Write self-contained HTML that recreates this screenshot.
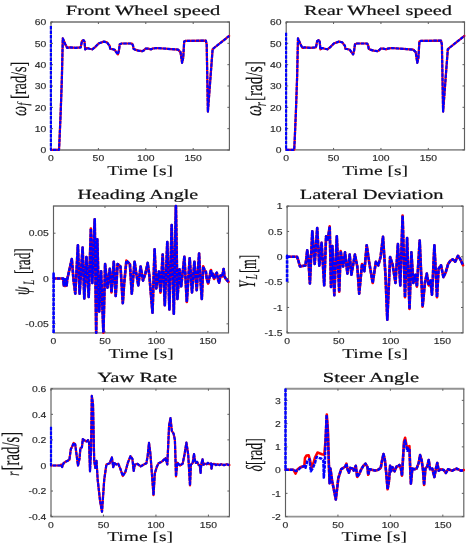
<!DOCTYPE html><html><head><meta charset="utf-8"><title>Vehicle state estimation plots</title><style>html,body{margin:0;padding:0;background:#fff;overflow:hidden}svg{display:block}</style></head><body>
<svg width="469" height="550" viewBox="0 0 469 550" text-rendering="geometricPrecision">
<rect x="0" y="0" width="469" height="550" fill="#ffffff"/>
<g id="A1">
<g class="axis">
<line x1="50.42" y1="22.00" x2="229.97" y2="22.00" stroke="#939393" stroke-width="1.8"/>
<line x1="50.42" y1="150.00" x2="229.97" y2="150.00" stroke="#939393" stroke-width="1.8"/>
<line x1="51.00" y1="22.00" x2="51.00" y2="150.00" stroke="#5e5e5e" stroke-width="1.15"/>
<line x1="229.40" y1="22.00" x2="229.40" y2="150.00" stroke="#5e5e5e" stroke-width="1.15"/>
<line x1="51.00" y1="150.00" x2="51.00" y2="148.00" stroke="#5e5e5e" stroke-width="1"/>
<line x1="51.00" y1="22.00" x2="51.00" y2="24.00" stroke="#5e5e5e" stroke-width="1"/>
<line x1="98.40" y1="150.00" x2="98.40" y2="148.00" stroke="#5e5e5e" stroke-width="1"/>
<line x1="98.40" y1="22.00" x2="98.40" y2="24.00" stroke="#5e5e5e" stroke-width="1"/>
<line x1="145.79" y1="150.00" x2="145.79" y2="148.00" stroke="#5e5e5e" stroke-width="1"/>
<line x1="145.79" y1="22.00" x2="145.79" y2="24.00" stroke="#5e5e5e" stroke-width="1"/>
<line x1="193.19" y1="150.00" x2="193.19" y2="148.00" stroke="#5e5e5e" stroke-width="1"/>
<line x1="193.19" y1="22.00" x2="193.19" y2="24.00" stroke="#5e5e5e" stroke-width="1"/>
<line x1="51.00" y1="150.00" x2="53.00" y2="150.00" stroke="#5e5e5e" stroke-width="1"/>
<line x1="229.40" y1="150.00" x2="227.40" y2="150.00" stroke="#5e5e5e" stroke-width="1"/>
<line x1="51.00" y1="128.67" x2="53.00" y2="128.67" stroke="#5e5e5e" stroke-width="1"/>
<line x1="229.40" y1="128.67" x2="227.40" y2="128.67" stroke="#5e5e5e" stroke-width="1"/>
<line x1="51.00" y1="107.33" x2="53.00" y2="107.33" stroke="#5e5e5e" stroke-width="1"/>
<line x1="229.40" y1="107.33" x2="227.40" y2="107.33" stroke="#5e5e5e" stroke-width="1"/>
<line x1="51.00" y1="86.00" x2="53.00" y2="86.00" stroke="#5e5e5e" stroke-width="1"/>
<line x1="229.40" y1="86.00" x2="227.40" y2="86.00" stroke="#5e5e5e" stroke-width="1"/>
<line x1="51.00" y1="64.67" x2="53.00" y2="64.67" stroke="#5e5e5e" stroke-width="1"/>
<line x1="229.40" y1="64.67" x2="227.40" y2="64.67" stroke="#5e5e5e" stroke-width="1"/>
<line x1="51.00" y1="43.33" x2="53.00" y2="43.33" stroke="#5e5e5e" stroke-width="1"/>
<line x1="229.40" y1="43.33" x2="227.40" y2="43.33" stroke="#5e5e5e" stroke-width="1"/>
<line x1="51.00" y1="22.00" x2="53.00" y2="22.00" stroke="#5e5e5e" stroke-width="1"/>
<line x1="229.40" y1="22.00" x2="227.40" y2="22.00" stroke="#5e5e5e" stroke-width="1"/>
</g>
<g font-family="'Liberation Sans', Arial, Helvetica, sans-serif" font-size="8.6" fill="#2a2a2a" letter-spacing="0.0" stroke="#2a2a2a" stroke-width="0.15">
<text id="A1x0" text-anchor="middle" transform="translate(51.00,161.20) scale(1.21,1)">0</text>
<text id="A1x50" text-anchor="middle" transform="translate(98.40,161.20) scale(1.21,1)">50</text>
<text id="A1x100" text-anchor="middle" transform="translate(145.79,161.20) scale(1.21,1)">100</text>
<text id="A1x150" text-anchor="middle" transform="translate(193.19,161.20) scale(1.21,1)">150</text>
<text id="A1y0" text-anchor="end" transform="translate(46.40,153.30) scale(1.21,1)">0</text>
<text id="A1y10" text-anchor="end" transform="translate(46.40,131.97) scale(1.21,1)">10</text>
<text id="A1y20" text-anchor="end" transform="translate(46.40,110.63) scale(1.21,1)">20</text>
<text id="A1y30" text-anchor="end" transform="translate(46.40,89.30) scale(1.21,1)">30</text>
<text id="A1y40" text-anchor="end" transform="translate(46.40,67.97) scale(1.21,1)">40</text>
<text id="A1y50" text-anchor="end" transform="translate(46.40,46.63) scale(1.21,1)">50</text>
<text id="A1y60" text-anchor="end" transform="translate(46.40,25.30) scale(1.21,1)">60</text>
</g>
<g class="curve"><polyline points="51.2,149.8 59.0,149.8 59.5,140.0 60.7,111.8 61.9,77.3 62.4,55.0 62.8,38.4 65.3,44.2 67.3,48.0 69.2,47.4 75.6,47.8 80.7,47.4 82.0,41.0 83.5,40.1 84.5,41.6 85.2,49.3 87.1,48.0 89.6,48.7 92.2,49.3 94.8,47.4 98.6,43.5 103.8,41.6 107.0,42.3 108.3,44.2 109.6,45.5 110.2,48.7 112.8,49.3 114.7,49.9 116.0,51.9 117.9,54.4 118.9,50.6 119.8,44.2 121.7,43.5 132.0,43.5 133.0,45.5 133.5,48.7 135.8,49.9 138.4,50.6 142.2,51.2 143.5,50.6 145.4,48.7 148.0,48.7 151.2,49.3 152.4,48.7 156.3,48.0 163.2,48.5 171.4,49.1 178.0,49.6 180.5,52.1 182.1,62.8 183.2,57.8 184.2,41.4 185.4,40.9 205.8,40.6 206.7,44.5 207.9,111.6 212.6,49.4 214.0,48.0 229.2,35.9" fill="none" stroke="#ff0000" stroke-width="2.2" stroke-linejoin="round" stroke-linecap="round"/><polyline points="50.9,25.9 50.9,149.8 51.2,149.8 59.0,149.8 59.5,140.0 60.7,111.8 61.9,77.3 62.4,55.0 62.8,38.4 65.3,44.2 67.3,48.0 69.2,47.4 75.6,47.8 80.7,47.4 82.0,41.0 83.5,40.1 84.5,41.6 85.2,49.3 87.1,48.0 89.6,48.7 92.2,49.3 94.8,47.4 98.6,43.5 103.8,41.6 107.0,42.3 108.3,44.2 109.6,45.5 110.2,48.7 112.8,49.3 114.7,49.9 116.0,51.9 117.9,54.4 118.9,50.6 119.8,44.2 121.7,43.5 132.0,43.5 133.0,45.5 133.5,48.7 135.8,49.9 138.4,50.6 142.2,51.2 143.5,50.6 145.4,48.7 148.0,48.7 151.2,49.3 152.4,48.7 156.3,48.0 163.2,48.5 171.4,49.1 178.0,49.6 180.5,52.1 182.1,62.8 183.2,57.8 184.2,41.4 185.4,40.9 205.8,40.6 206.7,44.5 207.9,111.6 212.6,49.4 214.0,48.0 229.2,35.9" fill="none" stroke="#0000ff" stroke-width="2.2" stroke-dasharray="3.6 0.9" stroke-linejoin="round"/></g>
</g>
<g id="A2">
<g class="axis">
<line x1="285.62" y1="22.00" x2="465.07" y2="22.00" stroke="#939393" stroke-width="1.8"/>
<line x1="285.62" y1="149.95" x2="465.07" y2="149.95" stroke="#939393" stroke-width="1.8"/>
<line x1="286.20" y1="22.00" x2="286.20" y2="149.95" stroke="#5e5e5e" stroke-width="1.15"/>
<line x1="464.50" y1="22.00" x2="464.50" y2="149.95" stroke="#5e5e5e" stroke-width="1.15"/>
<line x1="286.20" y1="149.95" x2="286.20" y2="147.95" stroke="#5e5e5e" stroke-width="1"/>
<line x1="286.20" y1="22.00" x2="286.20" y2="24.00" stroke="#5e5e5e" stroke-width="1"/>
<line x1="333.57" y1="149.95" x2="333.57" y2="147.95" stroke="#5e5e5e" stroke-width="1"/>
<line x1="333.57" y1="22.00" x2="333.57" y2="24.00" stroke="#5e5e5e" stroke-width="1"/>
<line x1="380.94" y1="149.95" x2="380.94" y2="147.95" stroke="#5e5e5e" stroke-width="1"/>
<line x1="380.94" y1="22.00" x2="380.94" y2="24.00" stroke="#5e5e5e" stroke-width="1"/>
<line x1="428.31" y1="149.95" x2="428.31" y2="147.95" stroke="#5e5e5e" stroke-width="1"/>
<line x1="428.31" y1="22.00" x2="428.31" y2="24.00" stroke="#5e5e5e" stroke-width="1"/>
<line x1="286.20" y1="149.95" x2="288.20" y2="149.95" stroke="#5e5e5e" stroke-width="1"/>
<line x1="464.50" y1="149.95" x2="462.50" y2="149.95" stroke="#5e5e5e" stroke-width="1"/>
<line x1="286.20" y1="128.62" x2="288.20" y2="128.62" stroke="#5e5e5e" stroke-width="1"/>
<line x1="464.50" y1="128.62" x2="462.50" y2="128.62" stroke="#5e5e5e" stroke-width="1"/>
<line x1="286.20" y1="107.30" x2="288.20" y2="107.30" stroke="#5e5e5e" stroke-width="1"/>
<line x1="464.50" y1="107.30" x2="462.50" y2="107.30" stroke="#5e5e5e" stroke-width="1"/>
<line x1="286.20" y1="85.97" x2="288.20" y2="85.97" stroke="#5e5e5e" stroke-width="1"/>
<line x1="464.50" y1="85.97" x2="462.50" y2="85.97" stroke="#5e5e5e" stroke-width="1"/>
<line x1="286.20" y1="64.65" x2="288.20" y2="64.65" stroke="#5e5e5e" stroke-width="1"/>
<line x1="464.50" y1="64.65" x2="462.50" y2="64.65" stroke="#5e5e5e" stroke-width="1"/>
<line x1="286.20" y1="43.32" x2="288.20" y2="43.32" stroke="#5e5e5e" stroke-width="1"/>
<line x1="464.50" y1="43.32" x2="462.50" y2="43.32" stroke="#5e5e5e" stroke-width="1"/>
<line x1="286.20" y1="22.00" x2="288.20" y2="22.00" stroke="#5e5e5e" stroke-width="1"/>
<line x1="464.50" y1="22.00" x2="462.50" y2="22.00" stroke="#5e5e5e" stroke-width="1"/>
</g>
<g font-family="'Liberation Sans', Arial, Helvetica, sans-serif" font-size="8.6" fill="#2a2a2a" letter-spacing="0.0" stroke="#2a2a2a" stroke-width="0.15">
<text id="A2x0" text-anchor="middle" transform="translate(286.20,161.15) scale(1.21,1)">0</text>
<text id="A2x50" text-anchor="middle" transform="translate(333.57,161.15) scale(1.21,1)">50</text>
<text id="A2x100" text-anchor="middle" transform="translate(380.94,161.15) scale(1.21,1)">100</text>
<text id="A2x150" text-anchor="middle" transform="translate(428.31,161.15) scale(1.21,1)">150</text>
<text id="A2y0" text-anchor="end" transform="translate(281.60,153.25) scale(1.21,1)">0</text>
<text id="A2y10" text-anchor="end" transform="translate(281.60,131.93) scale(1.21,1)">10</text>
<text id="A2y20" text-anchor="end" transform="translate(281.60,110.60) scale(1.21,1)">20</text>
<text id="A2y30" text-anchor="end" transform="translate(281.60,89.27) scale(1.21,1)">30</text>
<text id="A2y40" text-anchor="end" transform="translate(281.60,67.95) scale(1.21,1)">40</text>
<text id="A2y50" text-anchor="end" transform="translate(281.60,46.62) scale(1.21,1)">50</text>
<text id="A2y60" text-anchor="end" transform="translate(281.60,25.30) scale(1.21,1)">60</text>
</g>
<g class="curve"><polyline points="286.4,149.8 294.2,149.8 294.7,140.0 295.9,111.8 297.1,77.3 297.6,55.0 298.0,38.4 300.5,44.2 302.5,48.0 304.4,47.4 310.8,47.8 315.9,47.4 317.2,41.0 318.7,40.1 319.7,41.6 320.4,49.3 322.3,48.0 324.8,48.7 327.4,49.3 330.0,47.4 333.8,43.5 339.0,41.6 342.2,42.3 343.5,44.2 344.8,45.5 345.4,48.7 348.0,49.3 349.9,49.9 351.2,51.9 353.1,54.4 354.1,50.6 355.0,44.2 356.9,43.5 367.2,43.5 368.2,45.5 368.7,48.7 371.0,49.9 373.6,50.6 377.4,51.2 378.7,50.6 380.6,48.7 383.2,48.7 386.4,49.3 387.6,48.7 391.5,48.0 398.4,48.5 406.6,49.1 413.2,49.6 415.7,52.1 417.3,62.8 418.4,57.8 419.4,41.4 420.6,40.9 441.0,40.6 441.9,44.5 443.1,111.6 447.8,49.4 449.2,48.0 464.4,35.9" fill="none" stroke="#ff0000" stroke-width="2.2" stroke-linejoin="round" stroke-linecap="round"/><polyline points="286.1,32.7 286.1,149.8 286.4,149.8 294.2,149.8 294.7,140.0 295.9,111.8 297.1,77.3 297.6,55.0 298.0,38.4 300.5,44.2 302.5,48.0 304.4,47.4 310.8,47.8 315.9,47.4 317.2,41.0 318.7,40.1 319.7,41.6 320.4,49.3 322.3,48.0 324.8,48.7 327.4,49.3 330.0,47.4 333.8,43.5 339.0,41.6 342.2,42.3 343.5,44.2 344.8,45.5 345.4,48.7 348.0,49.3 349.9,49.9 351.2,51.9 353.1,54.4 354.1,50.6 355.0,44.2 356.9,43.5 367.2,43.5 368.2,45.5 368.7,48.7 371.0,49.9 373.6,50.6 377.4,51.2 378.7,50.6 380.6,48.7 383.2,48.7 386.4,49.3 387.6,48.7 391.5,48.0 398.4,48.5 406.6,49.1 413.2,49.6 415.7,52.1 417.3,62.8 418.4,57.8 419.4,41.4 420.6,40.9 441.0,40.6 441.9,44.5 443.1,111.6 447.8,49.4 449.2,48.0 464.4,35.9" fill="none" stroke="#0000ff" stroke-width="2.2" stroke-dasharray="3.6 0.9" stroke-linejoin="round"/></g>
</g>
<g id="A3">
<g class="axis">
<line x1="52.92" y1="206.00" x2="229.07" y2="206.00" stroke="#939393" stroke-width="1.8"/>
<line x1="52.92" y1="332.90" x2="229.07" y2="332.90" stroke="#939393" stroke-width="1.8"/>
<line x1="53.50" y1="206.00" x2="53.50" y2="332.90" stroke="#5e5e5e" stroke-width="1.15"/>
<line x1="228.50" y1="206.00" x2="228.50" y2="332.90" stroke="#5e5e5e" stroke-width="1.15"/>
<line x1="53.50" y1="332.90" x2="53.50" y2="330.90" stroke="#5e5e5e" stroke-width="1"/>
<line x1="53.50" y1="206.00" x2="53.50" y2="208.00" stroke="#5e5e5e" stroke-width="1"/>
<line x1="104.97" y1="332.90" x2="104.97" y2="330.90" stroke="#5e5e5e" stroke-width="1"/>
<line x1="104.97" y1="206.00" x2="104.97" y2="208.00" stroke="#5e5e5e" stroke-width="1"/>
<line x1="156.44" y1="332.90" x2="156.44" y2="330.90" stroke="#5e5e5e" stroke-width="1"/>
<line x1="156.44" y1="206.00" x2="156.44" y2="208.00" stroke="#5e5e5e" stroke-width="1"/>
<line x1="207.91" y1="332.90" x2="207.91" y2="330.90" stroke="#5e5e5e" stroke-width="1"/>
<line x1="207.91" y1="206.00" x2="207.91" y2="208.00" stroke="#5e5e5e" stroke-width="1"/>
<line x1="53.50" y1="323.84" x2="55.50" y2="323.84" stroke="#5e5e5e" stroke-width="1"/>
<line x1="228.50" y1="323.84" x2="226.50" y2="323.84" stroke="#5e5e5e" stroke-width="1"/>
<line x1="53.50" y1="278.51" x2="55.50" y2="278.51" stroke="#5e5e5e" stroke-width="1"/>
<line x1="228.50" y1="278.51" x2="226.50" y2="278.51" stroke="#5e5e5e" stroke-width="1"/>
<line x1="53.50" y1="233.19" x2="55.50" y2="233.19" stroke="#5e5e5e" stroke-width="1"/>
<line x1="228.50" y1="233.19" x2="226.50" y2="233.19" stroke="#5e5e5e" stroke-width="1"/>
</g>
<g font-family="'Liberation Sans', Arial, Helvetica, sans-serif" font-size="8.6" fill="#2a2a2a" letter-spacing="0.0" stroke="#2a2a2a" stroke-width="0.15">
<text id="A3x0" text-anchor="middle" transform="translate(53.50,344.10) scale(1.21,1)">0</text>
<text id="A3x50" text-anchor="middle" transform="translate(104.97,344.10) scale(1.21,1)">50</text>
<text id="A3x100" text-anchor="middle" transform="translate(156.44,344.10) scale(1.21,1)">100</text>
<text id="A3x150" text-anchor="middle" transform="translate(207.91,344.10) scale(1.21,1)">150</text>
<text id="A3y-0.05" text-anchor="end" transform="translate(48.90,327.14) scale(1.21,1)">-0.05</text>
<text id="A3y0" text-anchor="end" transform="translate(48.90,281.81) scale(1.21,1)">0</text>
<text id="A3y0.05" text-anchor="end" transform="translate(48.90,236.49) scale(1.21,1)">0.05</text>
</g>
<g class="curve"><polyline points="53.6,278.5 63.2,278.5 63.8,285.5 64.5,279.2 65.2,286.0 65.9,279.5 66.6,285.5 67.2,279.5 71.8,259.1 73.6,280.6 75.3,293.7 77.9,245.2 79.6,293.7 82.6,247.6 84.3,298.4 86.4,257.0 88.7,297.0 90.9,228.6 92.3,283.0 94.7,219.2 96.2,332.7 97.3,239.3 99.2,311.4 101.1,271.2 103.4,332.7 105.1,264.1 107.5,287.7 109.8,268.8 111.5,292.5 113.8,261.7 115.7,296.0 117.6,264.1 120.5,266.5 122.8,303.1 124.0,285.4 126.4,260.6 129.9,264.1 131.8,293.7 134.6,261.7 135.9,271.2 138.3,285.4 140.6,266.5 143.0,280.6 145.4,273.6 147.7,262.9 149.4,275.9 152.5,312.6 154.6,249.4 156.3,288.4 158.9,271.5 160.5,292.6 162.7,254.6 164.8,305.3 167.3,242.0 169.4,309.5 171.7,225.1 173.8,313.7 175.9,206.0 177.4,299.0 179.5,269.4 181.2,286.3 184.4,256.7 186.8,301.9 189.7,258.2 192.0,292.5 194.4,261.7 196.7,290.1 199.1,253.6 200.0,272.7 201.8,299.0 203.2,266.4 204.5,270.0 205.9,271.8 206.8,279.0 208.2,283.6 209.5,277.3 210.9,270.0 211.8,275.5 212.7,273.6 214.1,279.0 215.5,274.5 216.8,272.7 218.2,280.0 219.1,282.7 220.5,275.5 222.3,276.4 223.6,269.0 224.5,276.4 225.9,279.0 228.5,281.8" fill="none" stroke="#ff0000" stroke-width="2.6" stroke-linejoin="round" stroke-linecap="round"/><polyline points="53.6,332.9 53.6,273.5 53.6,278.5 63.2,278.5 63.8,285.5 64.5,279.2 65.2,286.0 65.9,279.5 66.6,285.5 67.2,279.5 71.8,259.1 73.6,280.6 75.3,293.7 77.9,245.2 79.6,293.7 82.6,247.6 84.3,298.4 86.4,257.0 88.7,297.0 90.9,228.6 92.3,283.0 94.7,219.2 96.2,332.7 97.3,239.3 99.2,311.4 101.1,271.2 103.4,332.7 105.1,264.1 107.5,287.7 109.8,268.8 111.5,292.5 113.8,261.7 115.7,296.0 117.6,264.1 120.5,266.5 122.8,303.1 124.0,285.4 126.4,260.6 129.9,264.1 131.8,293.7 134.6,261.7 135.9,271.2 138.3,285.4 140.6,266.5 143.0,280.6 145.4,273.6 147.7,262.9 149.4,275.9 152.5,312.6 154.6,249.4 156.3,288.4 158.9,271.5 160.5,292.6 162.7,254.6 164.8,305.3 167.3,242.0 169.4,309.5 171.7,225.1 173.8,313.7 175.9,206.0 177.4,299.0 179.5,269.4 181.2,286.3 184.4,256.7 186.8,301.9 189.7,258.2 192.0,292.5 194.4,261.7 196.7,290.1 199.1,253.6 200.0,272.7 201.8,299.0 203.2,266.4 204.5,270.0 205.9,271.8 206.8,279.0 208.2,283.6 209.5,277.3 210.9,270.0 211.8,275.5 212.7,273.6 214.1,279.0 215.5,274.5 216.8,272.7 218.2,280.0 219.1,282.7 220.5,275.5 222.3,276.4 223.6,269.0 224.5,276.4 225.9,279.0 228.5,281.8" fill="none" stroke="#0000ff" stroke-width="2.6" stroke-dasharray="3.6 0.9" stroke-linejoin="round"/></g>
</g>
<g id="A4">
<g class="axis">
<line x1="286.53" y1="206.10" x2="463.57" y2="206.10" stroke="#939393" stroke-width="1.8"/>
<line x1="286.53" y1="332.80" x2="463.57" y2="332.80" stroke="#939393" stroke-width="1.8"/>
<line x1="287.10" y1="206.10" x2="287.10" y2="332.80" stroke="#5e5e5e" stroke-width="1.15"/>
<line x1="463.00" y1="206.10" x2="463.00" y2="332.80" stroke="#5e5e5e" stroke-width="1.15"/>
<line x1="287.10" y1="332.80" x2="287.10" y2="330.80" stroke="#5e5e5e" stroke-width="1"/>
<line x1="287.10" y1="206.10" x2="287.10" y2="208.10" stroke="#5e5e5e" stroke-width="1"/>
<line x1="338.84" y1="332.80" x2="338.84" y2="330.80" stroke="#5e5e5e" stroke-width="1"/>
<line x1="338.84" y1="206.10" x2="338.84" y2="208.10" stroke="#5e5e5e" stroke-width="1"/>
<line x1="390.57" y1="332.80" x2="390.57" y2="330.80" stroke="#5e5e5e" stroke-width="1"/>
<line x1="390.57" y1="206.10" x2="390.57" y2="208.10" stroke="#5e5e5e" stroke-width="1"/>
<line x1="442.31" y1="332.80" x2="442.31" y2="330.80" stroke="#5e5e5e" stroke-width="1"/>
<line x1="442.31" y1="206.10" x2="442.31" y2="208.10" stroke="#5e5e5e" stroke-width="1"/>
<line x1="287.10" y1="332.80" x2="289.10" y2="332.80" stroke="#5e5e5e" stroke-width="1"/>
<line x1="463.00" y1="332.80" x2="461.00" y2="332.80" stroke="#5e5e5e" stroke-width="1"/>
<line x1="287.10" y1="307.46" x2="289.10" y2="307.46" stroke="#5e5e5e" stroke-width="1"/>
<line x1="463.00" y1="307.46" x2="461.00" y2="307.46" stroke="#5e5e5e" stroke-width="1"/>
<line x1="287.10" y1="282.12" x2="289.10" y2="282.12" stroke="#5e5e5e" stroke-width="1"/>
<line x1="463.00" y1="282.12" x2="461.00" y2="282.12" stroke="#5e5e5e" stroke-width="1"/>
<line x1="287.10" y1="256.78" x2="289.10" y2="256.78" stroke="#5e5e5e" stroke-width="1"/>
<line x1="463.00" y1="256.78" x2="461.00" y2="256.78" stroke="#5e5e5e" stroke-width="1"/>
<line x1="287.10" y1="231.44" x2="289.10" y2="231.44" stroke="#5e5e5e" stroke-width="1"/>
<line x1="463.00" y1="231.44" x2="461.00" y2="231.44" stroke="#5e5e5e" stroke-width="1"/>
<line x1="287.10" y1="206.10" x2="289.10" y2="206.10" stroke="#5e5e5e" stroke-width="1"/>
<line x1="463.00" y1="206.10" x2="461.00" y2="206.10" stroke="#5e5e5e" stroke-width="1"/>
</g>
<g font-family="'Liberation Sans', Arial, Helvetica, sans-serif" font-size="8.6" fill="#2a2a2a" letter-spacing="0.0" stroke="#2a2a2a" stroke-width="0.15">
<text id="A4x0" text-anchor="middle" transform="translate(287.10,344.00) scale(1.21,1)">0</text>
<text id="A4x50" text-anchor="middle" transform="translate(338.84,344.00) scale(1.21,1)">50</text>
<text id="A4x100" text-anchor="middle" transform="translate(390.57,344.00) scale(1.21,1)">100</text>
<text id="A4x150" text-anchor="middle" transform="translate(442.31,344.00) scale(1.21,1)">150</text>
<text id="A4y-1.5" text-anchor="end" transform="translate(282.50,336.10) scale(1.21,1)">-1.5</text>
<text id="A4y-1" text-anchor="end" transform="translate(282.50,310.76) scale(1.21,1)">-1</text>
<text id="A4y-0.5" text-anchor="end" transform="translate(282.50,285.42) scale(1.21,1)">-0.5</text>
<text id="A4y0" text-anchor="end" transform="translate(282.50,260.08) scale(1.21,1)">0</text>
<text id="A4y0.5" text-anchor="end" transform="translate(282.50,234.74) scale(1.21,1)">0.5</text>
<text id="A4y1" text-anchor="end" transform="translate(282.50,209.40) scale(1.21,1)">1</text>
</g>
<g class="curve"><polyline points="287.1,256.8 297.0,256.8 298.0,259.5 299.0,263.0 300.0,266.4 305.4,265.5 306.4,258.0 307.2,250.3 308.2,256.0 309.9,283.4 312.3,231.3 314.7,264.0 317.2,228.1 319.3,265.7 321.6,242.8 324.2,285.3 326.1,236.2 327.8,239.5 329.7,226.4 331.0,286.9 332.4,246.0 334.3,295.1 336.8,236.2 339.2,291.8 340.7,251.1 343.1,266.5 345.0,252.3 347.4,273.6 349.7,254.6 351.4,274.7 354.9,254.6 357.3,266.5 359.2,293.7 362.0,264.1 364.4,271.2 366.7,245.2 369.1,261.7 372.7,283.0 375.9,261.7 378.3,265.3 380.6,257.0 383.0,236.9 385.4,273.6 387.3,319.7 390.1,257.0 392.5,264.1 395.5,283.0 397.9,244.0 400.3,285.4 402.6,215.6 405.0,297.2 407.1,238.1 409.5,309.0 411.4,252.3 413.3,283.0 415.4,274.7 416.9,286.6 419.7,240.5 422.6,306.7 424.9,283.0 426.8,273.6 428.7,285.4 430.4,280.6 432.0,294.8 434.4,245.2 437.0,297.2 438.6,268.8 441.0,265.3 443.4,277.1 445.7,272.4 448.1,264.1 450.5,260.6 452.8,259.4 455.2,261.7 458.0,255.8 460.4,259.4 463.0,265.3" fill="none" stroke="#ff0000" stroke-width="2.6" stroke-linejoin="round" stroke-linecap="round"/><polyline points="287.1,281.8 287.1,255.8 287.1,256.8 297.0,256.8 298.0,259.5 299.0,263.0 300.0,266.4 305.4,265.5 306.4,258.0 307.2,250.3 308.2,256.0 309.9,283.4 312.3,231.3 314.7,264.0 317.2,228.1 319.3,265.7 321.6,242.8 324.2,285.3 326.1,236.2 327.8,239.5 329.7,226.4 331.0,286.9 332.4,246.0 334.3,295.1 336.8,236.2 339.2,291.8 340.7,251.1 343.1,266.5 345.0,252.3 347.4,273.6 349.7,254.6 351.4,274.7 354.9,254.6 357.3,266.5 359.2,293.7 362.0,264.1 364.4,271.2 366.7,245.2 369.1,261.7 372.7,283.0 375.9,261.7 378.3,265.3 380.6,257.0 383.0,236.9 385.4,273.6 387.3,319.7 390.1,257.0 392.5,264.1 395.5,283.0 397.9,244.0 400.3,285.4 402.6,215.6 405.0,297.2 407.1,238.1 409.5,309.0 411.4,252.3 413.3,283.0 415.4,274.7 416.9,286.6 419.7,240.5 422.6,306.7 424.9,283.0 426.8,273.6 428.7,285.4 430.4,280.6 432.0,294.8 434.4,245.2 437.0,297.2 438.6,268.8 441.0,265.3 443.4,277.1 445.7,272.4 448.1,264.1 450.5,260.6 452.8,259.4 455.2,261.7 458.0,255.8 460.4,259.4 463.0,265.3" fill="none" stroke="#0000ff" stroke-width="2.6" stroke-dasharray="3.6 0.9" stroke-linejoin="round"/></g>
</g>
<g id="A5">
<g class="axis">
<line x1="50.42" y1="388.75" x2="229.97" y2="388.75" stroke="#939393" stroke-width="1.8"/>
<line x1="50.42" y1="516.60" x2="229.97" y2="516.60" stroke="#939393" stroke-width="1.8"/>
<line x1="51.00" y1="388.75" x2="51.00" y2="516.60" stroke="#5e5e5e" stroke-width="1.15"/>
<line x1="229.40" y1="388.75" x2="229.40" y2="516.60" stroke="#5e5e5e" stroke-width="1.15"/>
<line x1="51.00" y1="516.60" x2="51.00" y2="514.60" stroke="#5e5e5e" stroke-width="1"/>
<line x1="51.00" y1="388.75" x2="51.00" y2="390.75" stroke="#5e5e5e" stroke-width="1"/>
<line x1="103.47" y1="516.60" x2="103.47" y2="514.60" stroke="#5e5e5e" stroke-width="1"/>
<line x1="103.47" y1="388.75" x2="103.47" y2="390.75" stroke="#5e5e5e" stroke-width="1"/>
<line x1="155.94" y1="516.60" x2="155.94" y2="514.60" stroke="#5e5e5e" stroke-width="1"/>
<line x1="155.94" y1="388.75" x2="155.94" y2="390.75" stroke="#5e5e5e" stroke-width="1"/>
<line x1="208.41" y1="516.60" x2="208.41" y2="514.60" stroke="#5e5e5e" stroke-width="1"/>
<line x1="208.41" y1="388.75" x2="208.41" y2="390.75" stroke="#5e5e5e" stroke-width="1"/>
<line x1="51.00" y1="516.60" x2="53.00" y2="516.60" stroke="#5e5e5e" stroke-width="1"/>
<line x1="229.40" y1="516.60" x2="227.40" y2="516.60" stroke="#5e5e5e" stroke-width="1"/>
<line x1="51.00" y1="491.03" x2="53.00" y2="491.03" stroke="#5e5e5e" stroke-width="1"/>
<line x1="229.40" y1="491.03" x2="227.40" y2="491.03" stroke="#5e5e5e" stroke-width="1"/>
<line x1="51.00" y1="465.46" x2="53.00" y2="465.46" stroke="#5e5e5e" stroke-width="1"/>
<line x1="229.40" y1="465.46" x2="227.40" y2="465.46" stroke="#5e5e5e" stroke-width="1"/>
<line x1="51.00" y1="439.89" x2="53.00" y2="439.89" stroke="#5e5e5e" stroke-width="1"/>
<line x1="229.40" y1="439.89" x2="227.40" y2="439.89" stroke="#5e5e5e" stroke-width="1"/>
<line x1="51.00" y1="414.32" x2="53.00" y2="414.32" stroke="#5e5e5e" stroke-width="1"/>
<line x1="229.40" y1="414.32" x2="227.40" y2="414.32" stroke="#5e5e5e" stroke-width="1"/>
<line x1="51.00" y1="388.75" x2="53.00" y2="388.75" stroke="#5e5e5e" stroke-width="1"/>
<line x1="229.40" y1="388.75" x2="227.40" y2="388.75" stroke="#5e5e5e" stroke-width="1"/>
</g>
<g font-family="'Liberation Sans', Arial, Helvetica, sans-serif" font-size="8.6" fill="#2a2a2a" letter-spacing="0.0" stroke="#2a2a2a" stroke-width="0.15">
<text id="A5x0" text-anchor="middle" transform="translate(51.00,527.80) scale(1.21,1)">0</text>
<text id="A5x50" text-anchor="middle" transform="translate(103.47,527.80) scale(1.21,1)">50</text>
<text id="A5x100" text-anchor="middle" transform="translate(155.94,527.80) scale(1.21,1)">100</text>
<text id="A5x150" text-anchor="middle" transform="translate(208.41,527.80) scale(1.21,1)">150</text>
<text id="A5y-0.4" text-anchor="end" transform="translate(46.40,519.90) scale(1.21,1)">-0.4</text>
<text id="A5y-0.2" text-anchor="end" transform="translate(46.40,494.33) scale(1.21,1)">-0.2</text>
<text id="A5y0" text-anchor="end" transform="translate(46.40,468.76) scale(1.21,1)">0</text>
<text id="A5y0.2" text-anchor="end" transform="translate(46.40,443.19) scale(1.21,1)">0.2</text>
<text id="A5y0.4" text-anchor="end" transform="translate(46.40,417.62) scale(1.21,1)">0.4</text>
<text id="A5y0.6" text-anchor="end" transform="translate(46.40,392.05) scale(1.21,1)">0.6</text>
</g>
<g class="curve"><polyline points="51.0,465.5 60.3,465.5 61.2,464.5 62.2,467.0 63.6,463.1 65.6,461.7 69.4,459.8 70.8,449.2 72.3,446.3 73.7,443.0 75.2,444.4 76.6,455.0 78.0,465.5 79.5,458.8 80.4,448.2 81.9,447.3 82.8,439.1 84.8,440.6 86.7,441.5 88.1,440.1 89.1,442.5 90.0,471.3 91.1,449.1 91.8,395.9 93.0,404.2 94.2,460.9 95.4,468.0 96.5,460.9 97.7,479.8 100.1,501.1 102.0,511.7 104.2,479.8 106.4,464.5 109.6,463.3 111.9,457.5 113.2,467.1 114.5,463.2 116.4,464.5 118.3,463.9 120.2,468.4 122.8,476.0 125.3,472.2 127.9,462.6 130.5,456.2 132.4,458.8 133.7,470.9 134.9,464.5 137.5,463.9 140.7,466.4 143.9,464.5 146.4,463.2 147.7,455.6 149.0,442.8 150.3,453.0 151.6,469.6 153.5,495.2 154.8,473.5 156.7,467.1 158.6,463.2 161.2,462.0 162.7,460.9 165.5,458.2 167.3,464.5 168.2,445.5 169.1,425.5 170.5,418.2 171.8,430.9 173.6,433.6 174.9,440.0 176.0,476.4 177.3,462.7 180.0,465.5 182.7,463.6 184.5,454.5 186.4,442.7 188.2,454.5 190.0,485.5 190.9,464.7 192.7,462.9 194.0,454.0 194.9,460.2 195.8,462.9 197.2,462.0 198.5,464.7 199.8,465.6 200.6,472.8 201.2,464.7 202.5,459.3 203.4,464.7 204.8,463.8 206.6,464.2 207.9,462.9 209.2,464.2 211.0,463.4 211.5,468.7 212.4,464.2 214.2,463.8 216.0,465.1 217.8,464.2 219.5,465.1 221.3,464.2 224.0,465.1 226.7,464.2 229.4,465.1" fill="none" stroke="#ff0000" stroke-width="2.2" stroke-linejoin="round" stroke-linecap="round"/><polyline points="51.0,426.8 51.0,465.5 60.3,465.5 61.2,464.5 62.2,467.0 63.6,463.1 65.6,461.7 69.4,459.8 70.8,449.2 72.3,446.3 73.7,443.0 75.2,444.4 76.6,455.0 78.0,465.5 79.5,458.8 80.4,448.2 81.9,447.3 82.8,439.1 84.8,440.6 86.7,441.5 88.1,440.1 89.1,442.5 90.0,471.3 91.1,449.1 91.8,395.9 93.0,404.2 94.2,460.9 95.4,468.0 96.5,460.9 97.7,479.8 100.1,501.1 102.0,511.7 104.2,479.8 106.4,464.5 109.6,463.3 111.9,457.5 113.2,467.1 114.5,463.2 116.4,464.5 118.3,463.9 120.2,468.4 122.8,476.0 125.3,472.2 127.9,462.6 130.5,456.2 132.4,458.8 133.7,470.9 134.9,464.5 137.5,463.9 140.7,466.4 143.9,464.5 146.4,463.2 147.7,455.6 149.0,442.8 150.3,453.0 151.6,469.6 153.5,495.2 154.8,473.5 156.7,467.1 158.6,463.2 161.2,462.0 162.7,460.9 165.5,458.2 167.3,464.5 168.2,445.5 169.1,425.5 170.5,418.2 171.8,430.9 173.6,433.6 174.9,440.0 176.0,476.4 177.3,462.7 180.0,465.5 182.7,463.6 184.5,454.5 186.4,442.7 188.2,454.5 190.0,485.5 190.9,464.7 192.7,462.9 194.0,454.0 194.9,460.2 195.8,462.9 197.2,462.0 198.5,464.7 199.8,465.6 200.6,472.8 201.2,464.7 202.5,459.3 203.4,464.7 204.8,463.8 206.6,464.2 207.9,462.9 209.2,464.2 211.0,463.4 211.5,468.7 212.4,464.2 214.2,463.8 216.0,465.1 217.8,464.2 219.5,465.1 221.3,464.2 224.0,465.1 226.7,464.2 229.4,465.1" fill="none" stroke="#0000ff" stroke-width="2.2" stroke-dasharray="3.6 0.9" stroke-linejoin="round"/></g>
</g>
<g id="A6">
<g class="axis">
<line x1="284.93" y1="388.75" x2="464.38" y2="388.75" stroke="#939393" stroke-width="1.8"/>
<line x1="284.93" y1="516.60" x2="464.38" y2="516.60" stroke="#939393" stroke-width="1.8"/>
<line x1="285.50" y1="388.75" x2="285.50" y2="516.60" stroke="#5e5e5e" stroke-width="1.15"/>
<line x1="463.80" y1="388.75" x2="463.80" y2="516.60" stroke="#5e5e5e" stroke-width="1.15"/>
<line x1="285.50" y1="516.60" x2="285.50" y2="514.60" stroke="#5e5e5e" stroke-width="1"/>
<line x1="285.50" y1="388.75" x2="285.50" y2="390.75" stroke="#5e5e5e" stroke-width="1"/>
<line x1="337.94" y1="516.60" x2="337.94" y2="514.60" stroke="#5e5e5e" stroke-width="1"/>
<line x1="337.94" y1="388.75" x2="337.94" y2="390.75" stroke="#5e5e5e" stroke-width="1"/>
<line x1="390.38" y1="516.60" x2="390.38" y2="514.60" stroke="#5e5e5e" stroke-width="1"/>
<line x1="390.38" y1="388.75" x2="390.38" y2="390.75" stroke="#5e5e5e" stroke-width="1"/>
<line x1="442.82" y1="516.60" x2="442.82" y2="514.60" stroke="#5e5e5e" stroke-width="1"/>
<line x1="442.82" y1="388.75" x2="442.82" y2="390.75" stroke="#5e5e5e" stroke-width="1"/>
<line x1="285.50" y1="516.60" x2="287.50" y2="516.60" stroke="#5e5e5e" stroke-width="1"/>
<line x1="463.80" y1="516.60" x2="461.80" y2="516.60" stroke="#5e5e5e" stroke-width="1"/>
<line x1="285.50" y1="493.35" x2="287.50" y2="493.35" stroke="#5e5e5e" stroke-width="1"/>
<line x1="463.80" y1="493.35" x2="461.80" y2="493.35" stroke="#5e5e5e" stroke-width="1"/>
<line x1="285.50" y1="470.11" x2="287.50" y2="470.11" stroke="#5e5e5e" stroke-width="1"/>
<line x1="463.80" y1="470.11" x2="461.80" y2="470.11" stroke="#5e5e5e" stroke-width="1"/>
<line x1="285.50" y1="446.86" x2="287.50" y2="446.86" stroke="#5e5e5e" stroke-width="1"/>
<line x1="463.80" y1="446.86" x2="461.80" y2="446.86" stroke="#5e5e5e" stroke-width="1"/>
<line x1="285.50" y1="423.62" x2="287.50" y2="423.62" stroke="#5e5e5e" stroke-width="1"/>
<line x1="463.80" y1="423.62" x2="461.80" y2="423.62" stroke="#5e5e5e" stroke-width="1"/>
<line x1="285.50" y1="400.37" x2="287.50" y2="400.37" stroke="#5e5e5e" stroke-width="1"/>
<line x1="463.80" y1="400.37" x2="461.80" y2="400.37" stroke="#5e5e5e" stroke-width="1"/>
</g>
<g font-family="'Liberation Sans', Arial, Helvetica, sans-serif" font-size="8.6" fill="#2a2a2a" letter-spacing="0.0" stroke="#2a2a2a" stroke-width="0.15">
<text id="A6x0" text-anchor="middle" transform="translate(285.50,527.80) scale(1.21,1)">0</text>
<text id="A6x50" text-anchor="middle" transform="translate(337.94,527.80) scale(1.21,1)">50</text>
<text id="A6x100" text-anchor="middle" transform="translate(390.38,527.80) scale(1.21,1)">100</text>
<text id="A6x150" text-anchor="middle" transform="translate(442.82,527.80) scale(1.21,1)">150</text>
<text id="A6y-2" text-anchor="end" transform="translate(280.90,519.90) scale(1.21,1)">-2</text>
<text id="A6y-1" text-anchor="end" transform="translate(280.90,496.65) scale(1.21,1)">-1</text>
<text id="A6y0" text-anchor="end" transform="translate(280.90,473.41) scale(1.21,1)">0</text>
<text id="A6y1" text-anchor="end" transform="translate(280.90,450.16) scale(1.21,1)">1</text>
<text id="A6y2" text-anchor="end" transform="translate(280.90,426.92) scale(1.21,1)">2</text>
<text id="A6y3" text-anchor="end" transform="translate(280.90,403.67) scale(1.21,1)">3</text>
</g>
<g class="curve"><polyline points="285.5,469.8 293.5,469.8 295.6,473.6 297.4,469.5 300.5,467.1 304.3,466.4 305.0,457.9 306.5,455.5 308.6,455.2 310.0,460.0 311.7,467.8 313.5,463.0 314.9,457.9 317.5,452.5 320.0,453.5 322.0,454.3 324.3,454.8 325.6,440.0 326.8,414.5 328.0,432.3 328.9,465.0 329.6,483.2 330.4,468.6 332.2,481.4 334.4,492.3 335.8,499.5 337.1,488.6 338.4,477.7 339.2,475.5 341.2,469.2 343.3,467.9 345.4,466.5 346.4,463.7 347.5,469.2 348.9,472.7 350.2,467.9 352.3,468.5 353.7,470.6 355.8,465.8 357.2,476.9 359.2,474.1 361.3,469.2 363.4,465.8 365.5,463.7 367.5,467.2 368.2,474.8 369.6,469.2 372.4,469.9 375.2,470.6 377.9,469.9 380.7,467.9 382.1,460.2 383.5,454.0 384.9,460.2 386.2,472.7 387.6,489.3 389.0,481.0 390.1,465.8 391.1,471.3 392.5,467.2 394.6,471.3 396.6,466.5 398.0,466.4 399.4,465.0 400.9,468.6 402.0,475.7 403.0,458.6 404.0,441.4 405.1,437.8 406.3,444.3 407.3,448.7 408.3,446.6 409.4,446.1 410.1,465.7 410.9,483.6 412.3,468.6 414.4,469.3 416.6,468.6 418.7,462.9 420.1,455.0 421.6,460.0 423.0,470.0 424.1,485.0 425.4,468.6 427.3,466.4 428.7,460.0 430.1,469.3 432.3,468.6 434.4,477.1 435.9,468.6 437.3,462.9 438.7,470.7 440.9,469.3 443.7,470.0 445.9,472.9 448.0,469.3 452.3,470.7 456.6,468.6 460.9,470.7 463.8,470.0" fill="none" stroke="#ff0000" stroke-width="2.6" stroke-linejoin="round" stroke-linecap="round"/><polyline points="285.5,388.6 285.5,469.8 293.5,469.8 295.8,471.0 297.8,470.4 301.4,466.9 304.6,466.0 305.5,467.8 307.2,461.5 309.5,459.2 310.8,471.3 312.6,468.6 314.9,463.3 316.6,457.0 318.9,457.9 321.6,458.8 323.4,460.6 323.8,477.6 324.7,466.9 325.6,440.0 326.6,415.0 327.8,432.3 328.9,465.0 329.6,483.2 330.4,468.6 332.2,481.4 334.4,492.3 335.8,499.5 337.1,488.6 338.4,477.7 339.2,475.5 341.2,469.2 343.3,467.9 345.4,466.5 346.4,463.7 347.5,469.2 348.9,472.7 350.2,467.9 352.3,468.5 353.7,470.6 355.8,465.8 357.2,476.9 359.2,474.1 361.3,469.2 363.4,465.8 365.5,463.7 367.5,467.2 368.2,474.8 369.6,469.2 372.4,469.9 375.2,470.6 377.9,469.9 380.7,467.9 382.1,460.2 383.5,454.0 384.9,460.2 386.2,472.7 387.6,489.3 389.0,481.0 390.1,465.8 391.1,471.3 392.5,467.2 394.6,471.3 396.6,466.5 398.0,466.4 399.4,465.0 400.9,468.6 402.0,475.7 403.0,458.6 404.0,443.4 405.1,440.5 406.3,446.3 407.3,450.7 408.3,448.6 409.4,448.1 410.1,465.7 410.9,483.6 412.3,468.6 414.4,469.3 416.6,468.6 418.7,462.9 420.1,455.0 421.6,460.0 423.0,470.0 424.1,485.0 425.4,468.6 427.3,466.4 428.7,460.0 430.1,469.3 432.3,468.6 434.4,477.1 435.9,468.6 437.3,462.9 438.7,470.7 440.9,469.3 443.7,470.0 445.9,472.9 448.0,469.3 452.3,470.7 456.6,468.6 460.9,470.7 463.8,470.0" fill="none" stroke="#0000ff" stroke-width="2.5" stroke-dasharray="3.6 0.9" stroke-linejoin="round"/></g>
</g>
<g font-family="'Liberation Serif', 'Times New Roman', serif" font-weight="normal" fill="#111" stroke="#111" stroke-width="0.2">
<text id="T1" text-anchor="middle" font-size="14.0" transform="translate(143.05,15.00) scale(1.4643638169446884,1)">Front Wheel speed</text>
<text id="T2" text-anchor="middle" font-size="14.0" transform="translate(378.05,15.10) scale(1.4564234108527145,1)">Rear Wheel speed</text>
<text id="T3" text-anchor="middle" font-size="14.0" transform="translate(137.80,199.20) scale(1.4310559006211174,1)">Heading Angle</text>
<text id="T4" text-anchor="middle" font-size="14.0" transform="translate(371.55,199.30) scale(1.462542301976629,1)">Lateral Deviation</text>
<text id="T5" text-anchor="middle" font-size="14.0" transform="translate(137.30,382.10) scale(1.4648194751131218,1)">Yaw Rate</text>
<text id="T6" text-anchor="middle" font-size="14.0" transform="translate(370.95,381.60) scale(1.4646365469228644,1)">Steer Angle</text>
</g>
<g font-family="'Liberation Serif', 'Times New Roman', serif" fill="#111" stroke="#111" stroke-width="0.1">
<text id="X1" text-anchor="middle" font-size="13.5" transform="translate(140.10,175.10) scale(1.444455068160076,1)">Time [s]</text>
<text id="X2" text-anchor="middle" font-size="13.5" transform="translate(375.10,175.10) scale(1.444455068160079,1)">Time [s]</text>
<text id="X3" text-anchor="middle" font-size="13.5" transform="translate(141.00,357.90) scale(1.4289202860631431,1)">Time [s]</text>
<text id="X4" text-anchor="middle" font-size="13.5" transform="translate(375.10,357.90) scale(1.444455068160079,1)">Time [s]</text>
<text id="X5" text-anchor="middle" font-size="13.5" transform="translate(140.10,541.10) scale(1.444455068160076,1)">Time [s]</text>
<text id="X6" text-anchor="middle" font-size="13.5" transform="translate(374.20,541.10) scale(1.4285714285714284,1)">Time [s]</text>
<text id="Y1_0" text-anchor="middle" dominant-baseline="central" font-size="14.31" transform="translate(19.85,80.30) scale(1.545,1) rotate(-90)">[rad/s]</text>
<text id="Y1_1" text-anchor="middle" dominant-baseline="central" font-style="italic" font-size="10.02" transform="translate(23.85,104.00) scale(1.545,1) rotate(-90)">f</text>
<text id="Y1_2" text-anchor="middle" dominant-baseline="central" font-style="italic" font-size="14.31" transform="translate(20.05,110.85) scale(1.545,1) rotate(-90)">ω</text>
<text id="Y2_0" text-anchor="middle" dominant-baseline="central" font-size="15.28" transform="translate(255.15,81.20) scale(1.538,1) rotate(-90)">[rad/s]</text>
<text id="Y2_1" text-anchor="middle" dominant-baseline="central" font-style="italic" font-size="10.69" transform="translate(261.05,104.15) scale(1.538,1) rotate(-90)">r</text>
<text id="Y2_2" text-anchor="middle" dominant-baseline="central" font-style="italic" font-size="15.28" transform="translate(254.55,110.65) scale(1.538,1) rotate(-90)">ω</text>
<text id="Y3_0" text-anchor="middle" dominant-baseline="central" font-size="13.26" transform="translate(22.35,261.20) scale(1.700,1) rotate(-90)">[rad]</text>
<text id="Y3_1" text-anchor="middle" dominant-baseline="central" font-style="italic" font-size="9.28" transform="translate(30.35,282.15) scale(1.700,1) rotate(-90)">L</text>
<text id="Y3_2" text-anchor="middle" dominant-baseline="central" font-style="italic" font-size="13.26" transform="translate(21.35,290.85) scale(1.700,1) rotate(-90)">ψ</text>
<text id="Y4_0" text-anchor="middle" dominant-baseline="central" font-size="12.57" transform="translate(248.20,264.00) scale(1.895,1) rotate(-90)">[m]</text>
<text id="Y4_1" text-anchor="middle" dominant-baseline="central" font-style="italic" font-size="8.80" transform="translate(251.80,276.90) scale(1.895,1) rotate(-90)">L</text>
<text id="Y4_2" text-anchor="middle" dominant-baseline="central" font-style="italic" font-size="12.57" transform="translate(247.40,284.35) scale(1.895,1) rotate(-90)">Y</text>
<text id="Y5_0" text-anchor="middle" dominant-baseline="central" font-size="14.75" transform="translate(12.20,451.05) scale(1.698,1) rotate(-90)">[rad/s]</text>
<text id="Y5_1" text-anchor="middle" dominant-baseline="central" font-style="italic" font-size="10.62" transform="translate(14.50,473.70) scale(1.698,1) rotate(-90)">r</text>
<text id="Y6_0" text-anchor="middle" dominant-baseline="central" font-size="13.68" transform="translate(254.90,451.60) scale(1.688,1) rotate(-90)">[rad]</text>
<text id="Y6_1" text-anchor="middle" dominant-baseline="central" font-style="italic" font-size="13.68" transform="translate(254.60,468.35) scale(1.688,1) rotate(-90)">δ</text>
</g>
</svg></body></html>
